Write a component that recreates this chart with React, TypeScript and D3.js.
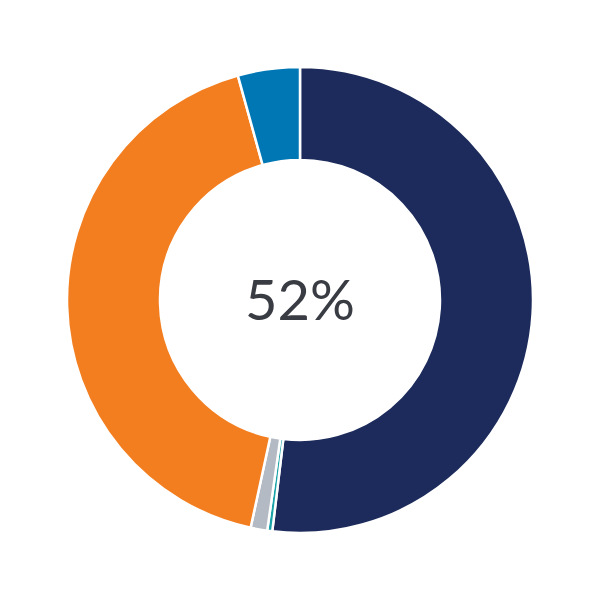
import * as d3 from 'd3'

const labels = ['Navy', 'Teal', 'Grey', 'Orange', 'Blue']
const values = [51.9, 0.35, 1.15, 42.3, 4.3]
const colors = ['#1c2b5b', '#19a3a8', '#b3bac3', '#f37e20', '#0077b5']
const centerLabel = '52%'

const App = () => {
  const width = 600
  const height = 600
  const outer = 233
  const inner = 140

  const arcs = d3
    .pie<number>()
    .sort(null)
    .value((d) => d)(values)

  const arc = d3.arc<d3.PieArcDatum<number>>().innerRadius(inner).outerRadius(outer)

  return (
    <svg
      width={width}
      height={height}
      style={{ position: 'absolute', left: 0, top: 0, background: '#fff' }}
    >
      <g transform={`translate(${width / 2},${height / 2})`}>
        {arcs.map((a, i) => (
          <path
            key={labels[i]}
            d={arc(a) ?? ''}
            fill={colors[i]}
            stroke="#fff"
            strokeWidth={2.5}
          />
        ))}
        <text
          y={0}
          dy="0.35em"
          textAnchor="middle"
          fontFamily="Lato, 'Open Sans', sans-serif"
          fontWeight={400}
          fontSize={56}
          fill="#3a3c44"
        >
          {centerLabel}
        </text>
      </g>
    </svg>
  )
}

export default App
